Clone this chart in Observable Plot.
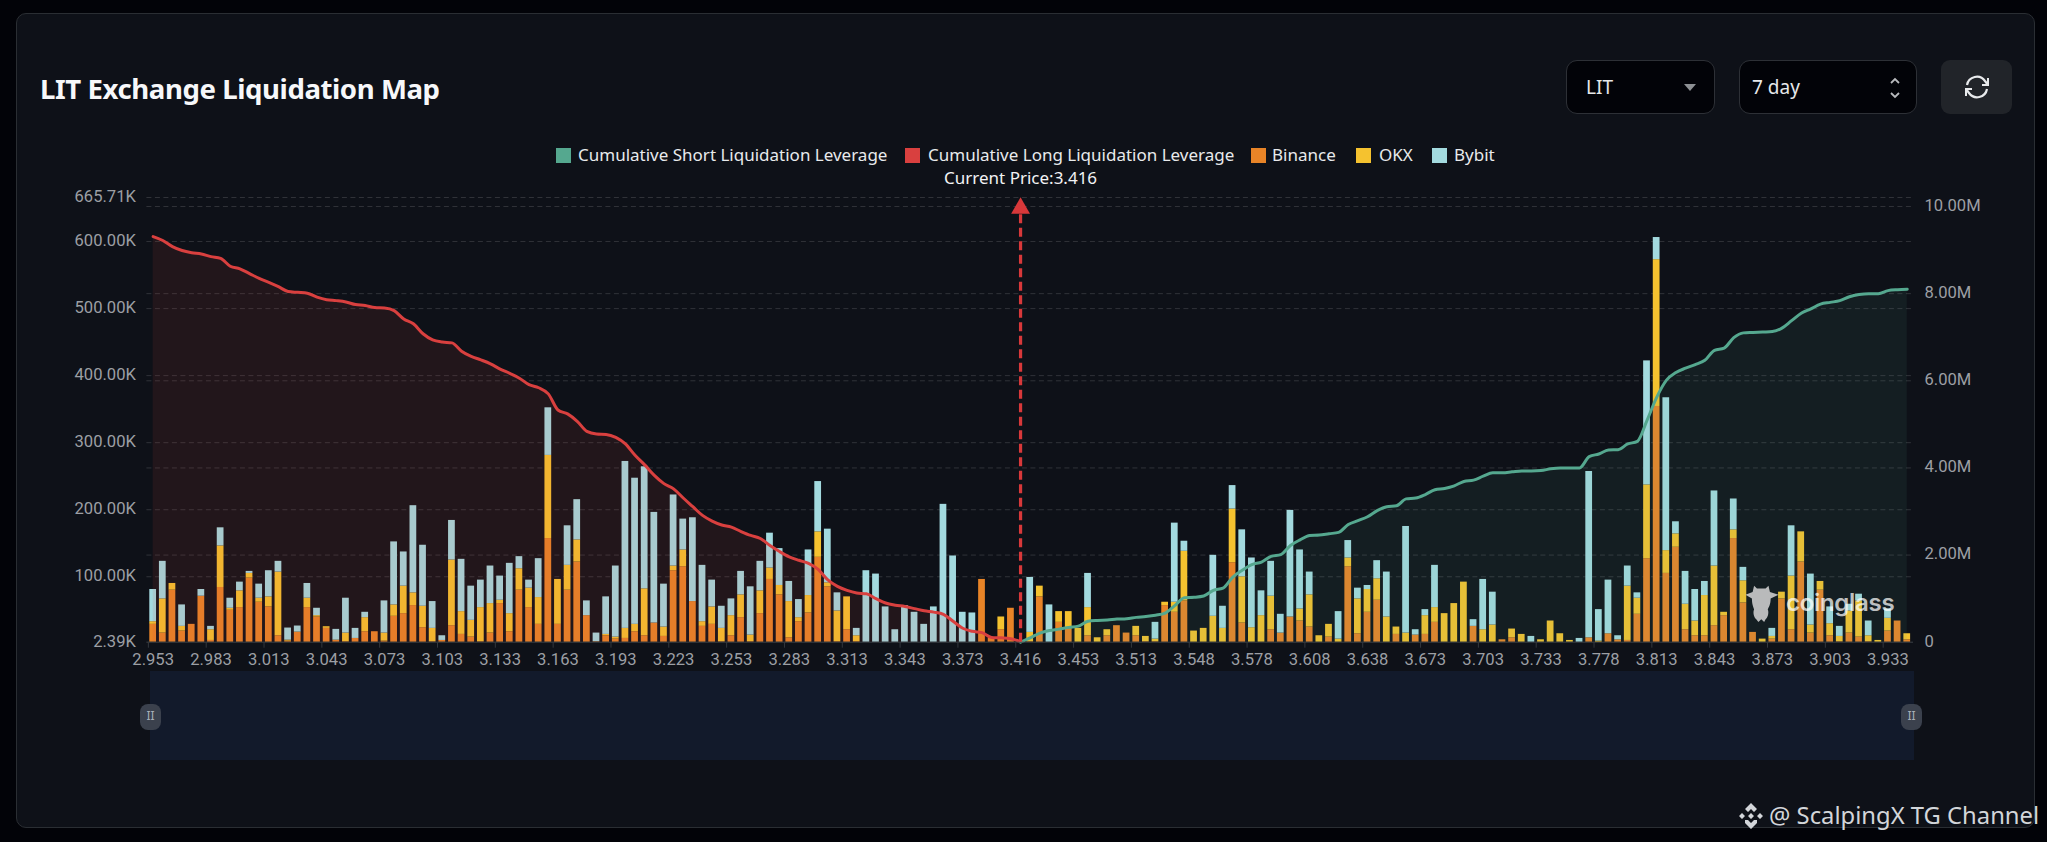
<!DOCTYPE html>
<html>
<head>
<meta charset="utf-8">
<script src="https://cdn.jsdelivr.net/npm/d3@7"></script>
<script src="https://cdn.jsdelivr.net/npm/@observablehq/plot@0.6"></script>
<style>
html,body{margin:0;padding:0;background:#020308;width:2047px;height:842px;overflow:hidden;font-family:"Noto Sans",sans-serif}
.abs{position:absolute}
#panel{left:16px;top:13px;width:2019px;height:815px;background:#0e1118;border:1px solid #2a2e33;border-radius:10px;box-sizing:border-box}
#title{left:40px;top:65px;font-size:27.6px;font-weight:700;letter-spacing:-.43px;color:#f7f8fa;line-height:46px;white-space:nowrap}
.box{background:#020308;border:1px solid #2d3036;border-radius:11px;box-sizing:border-box;top:60px;height:54px;color:#e6e8ea;font-size:19px;line-height:52px}
#chart{left:0;top:140px}
.lg{top:145px;font-size:17px;line-height:20px;color:#e8eaec;white-space:nowrap}
.sw{top:148px;width:15px;height:15px}
.handle{top:704px;width:21px;height:26px;border-radius:8px;background:#3b414d;color:#a8b0b8;font-size:12px;line-height:24px;text-align:center}
#wm{left:1786px;top:588px;font-size:24px;line-height:30px;font-weight:600;color:rgba(255,255,255,.74);font-family:"Inter","Noto Sans",sans-serif;letter-spacing:-.3px}
#tg{left:1769px;top:798px;font-size:23.8px;line-height:34px;color:#d3d6da;white-space:nowrap}
</style>
</head>
<body>
<div id="panel" class="abs"></div>
<div id="title" class="abs">LIT Exchange Liquidation Map</div>
<div class="abs box" style="left:1566px;width:149px;padding-left:19px">LIT
  <svg class="abs" style="left:116px;top:22px" width="14" height="9"><path d="M1 1H13L7 8Z" fill="#8d9094"/></svg></div>
<div class="abs box" style="left:1739px;width:178px;padding-left:12px">7 day
  <svg class="abs" style="left:148px;top:15px" width="14" height="24" fill="none" stroke="#b8babd" stroke-width="1.8"><path d="M3 7L7 3L11 7M3 17L7 21L11 17"/></svg></div>
<div class="abs" style="left:1941px;top:60px;width:71px;height:54px;border-radius:9px;background:#212429">
  <svg class="abs" style="left:23px;top:14px" width="26" height="26" viewBox="0 0 26 26" fill="none" stroke="#e8eaec" stroke-width="2.2"><path d="M3 11A10 10 0 0 1 21 7L24 11M23 15A10 10 0 0 1 5 19L2 15"/><path d="M24 4V11H18M2 22V15H8" stroke-width="2"/></svg></div>

<div class="abs sw" style="left:556px;background:#55a88f"></div><div class="abs lg" style="left:578px">Cumulative Short Liquidation Leverage</div>
<div class="abs sw" style="left:905px;background:#d9403f"></div><div class="abs lg" style="left:928px">Cumulative Long Liquidation Leverage</div>
<div class="abs sw" style="left:1251px;background:#e88427"></div><div class="abs lg" style="left:1272px">Binance</div>
<div class="abs sw" style="left:1356px;background:#f5c22f"></div><div class="abs lg" style="left:1379px">OKX</div>
<div class="abs sw" style="left:1432px;background:#a3dadf"></div><div class="abs lg" style="left:1454px">Bybit</div>

<div id="chart" class="abs"></div>

<div class="abs" style="left:150px;top:671px;width:1764px;height:89px;background:#121a2b"></div>
<div class="abs handle" style="left:140px">II</div>
<div class="abs handle" style="left:1901px">II</div>

<svg class="abs" style="left:1744px;top:583px" width="36" height="40" viewBox="0 0 50 44" preserveAspectRatio="none"><path d="M2 13L12 10L14 3L18 6H30L34 3L36 10L48 13L37 17C37 24 34 27 33 29C35 33 33 38 30 40L28 43L24 40L20 43L17 40C14 38 12 33 14 29C13 26 11 24 11 17Z" fill="#b9babb"/></svg>
<div id="wm" class="abs">coinglass</div>

<svg class="abs" style="left:1737px;top:802px" width="28" height="28" viewBox="0 0 28 28" fill="#d3d6da"><path d="M14 1L20 7L17 10L14 7L11 10L8 7ZM5 11L8 14L5 17L2 14ZM23 11L26 14L23 17L20 14ZM14 11L17 14L14 17L11 14ZM8 18L11 18L14 21L17 18L20 18L20 21L14 27L8 21Z"/></svg>
<div id="tg" class="abs">@ ScalpingX TG Channel</div>

<script>
// Values in thousands of USD, one entry per price bucket (left to right)
const binance = [29,16,80,19,29,71,5,84,50,54,98,62,55,12,4,17,54,40,23,5,3,8,18,18,4,41,45,57,24,3,5,27,14,10,3,16,60,18,80,54,29,157,29,80,122,42,3,12,7,8,18,12,31,11,109,115,63,26,29,3,12,39,3,45,96,73,9,33,46,129,85,3,21,3,0,0,0,0,0,0,0,0,0,0,0,0,96,9,21,53,0,3,70,0,32,22,0,12,0,12,27,16,12,3,3,57,47,64,0,0,0,0,121,31,0,0,21,16,40,34,25,0,10,0,115,15,47,65,0,14,0,13,14,32,0,0,0,26,0,0,6,9,0,0,0,0,0,0,0,9,0,15,6,5,44,127,354,105,144,21,12,12,27,42,157,61,17,0,7,67,21,122,16,80,12,3,16,10,3,0,19,34,6];
const okx = [4,51,10,7,0,0,16,62,3,25,7,6,15,95,1.5,0.5,14,2,2.5,0.5,13,0,21,0,12,17,41,19,32,20,0,98,34,25,51,44,5,27,32,29,40,124,67,37,33,0,0,2,3,15,11,70,0,14,7,25,0,7,26,20,30,34,10,34,17,14,54,6,26,38,6,46,49,9,0,0,0,0,0,0,0,0,0,0,0,0,0,0,19,0,0,14,16,0,16,26,23,42,9,9,0,0,14,8,4,5,15,74,19,23,41,23,80,69,24,42,50,0,0,18,48,12,19,7,13,52,34,32,40,11,16,0,28,22,45,60,92,0,21,28,0,13,14,0,6,34,15,5,0,0,4,0,0,81,24,110,219,34,20,38,22,60,89,5,13,33,0,7,4,10,80,45,12,13,18,8,33,54,9,5,19,0,9];
const bybit = [48,56,0,32,0,10,5,27,15,13,3,21,39,16,18,9,22,11,0,16,52,15,8,0,48,94,51,130,91,40,7,59,78,51,41,56,36,75,18,12,58,71,0,59,60,22,13,56,106,249,218,182,165,64,106,46,125,84,40,33,25,35,72,44,52,55,30,27,68,75,80,27,0,11,109,104,55,21,57,47,29,55,208,131,47,46,0,0,0,0,0,82,0,58,0,0,0,51,0,0,0,0,0,0,25,0,118,15,0,0,91,33,35,70,104,37,52,28,159,88,34,0,0,41,26,16,6,27,67,0,159,8,9,63,0,0,0,10,75,49,0,0,0,11,0,0,0,0,8,248,47,80,6,30,8,185,33,228,18,49,47,21,112,0,46,20,0,0,12,0,75,0,76,0,25,15,10,10,22,0,14,0,0];

// Cumulative leverage in millions, from the first bucket to the current price, then on to the last
const cumLong = [9.31,9.22,9.08,8.99,8.94,8.91,8.85,8.81,8.63,8.57,8.46,8.35,8.26,8.16,8.05,8.03,8.01,7.92,7.86,7.84,7.81,7.75,7.73,7.68,7.67,7.61,7.42,7.31,7.08,6.94,6.89,6.87,6.68,6.56,6.48,6.39,6.27,6.17,6.06,5.91,5.84,5.70,5.33,5.24,5.07,4.84,4.78,4.77,4.70,4.55,4.29,4.07,3.83,3.64,3.52,3.31,3.11,2.91,2.78,2.69,2.64,2.54,2.45,2.38,2.22,2.08,1.96,1.88,1.81,1.67,1.43,1.28,1.19,1.13,1.11,1.00,0.90,0.85,0.82,0.77,0.72,0.69,0.64,0.48,0.32,0.25,0.22,0.11,0.10,0.08,0.01];
const cumShort = [0,0.10,0.21,0.27,0.30,0.34,0.37,0.48,0.50,0.51,0.53,0.54,0.57,0.59,0.62,0.67,0.84,1.02,1.03,1.06,1.19,1.24,1.49,1.65,1.78,1.84,1.97,2.01,2.22,2.35,2.45,2.46,2.49,2.52,2.70,2.79,2.88,3.02,3.11,3.13,3.29,3.31,3.39,3.50,3.53,3.59,3.69,3.72,3.81,3.89,3.89,3.91,3.93,3.93,3.94,3.98,4.00,4.00,4.00,4.26,4.32,4.41,4.42,4.55,4.61,5.09,5.62,6.01,6.19,6.29,6.37,6.47,6.70,6.75,6.99,7.10,7.11,7.12,7.13,7.21,7.38,7.55,7.65,7.76,7.80,7.84,7.93,7.98,8.00,8.00,8.07,8.09,8.10];

const priceLabels = ["2.953","2.983","3.013","3.043","3.073","3.103","3.133","3.163","3.193","3.223","3.253","3.283","3.313","3.343","3.373","3.416","3.453","3.513","3.548","3.578","3.608","3.638","3.673","3.703","3.733","3.778","3.813","3.843","3.873","3.903","3.933"];
const labelStep = 6;
const currentBucket = 90;
const currentPrice = "3.416";
const leftMin = 2.39, leftMax = 665.71;
const leftTicks = [2.39,100,200,300,400,500,600,665.71];
const rightTicks = [0,2,4,6,8,10];
const series = ["Binance","OKX","Bybit"];
const seriesColors = ["#e88427","#f5c22f","#a3dadf"];
const longColor = "#d9403f", shortColor = "#55a88f";

// right axis: 10M sits just under the top of the left axis
const rightSpan = 0.9797 * (leftMax - leftMin) / 10;
const toLeft = m => leftMin + m * rightSpan;

const buckets = d3.range(binance.length);
const stacked = buckets.flatMap(i => [
  {i, s: "Binance", v: binance[i]},
  {i, s: "OKX", v: okx[i]},
  {i, s: "Bybit", v: bybit[i]}
]);
const longRows = cumLong.map((m, k) => ({i: k, m}));
const shortRows = cumShort.map((m, k) => ({i: currentBucket + k, m}));
const tickIdx = priceLabels.map((_, k) => k * labelStep);
const labelOf = i => priceLabels[i / labelStep];
const axisFont = {fontFamily: "Roboto", fontSize: 16.6};
const tickColor = "#9c9fa4";
const grid = "#ffffff";

const plot = Plot.plot({
  width: 2047, height: 550,
  marginTop: 57, marginBottom: 48.3, marginLeft: 146.4, marginRight: 134,
  style: {background: "transparent", overflow: "visible"},
  x: {type: "band", domain: buckets, padding: 0.3, round: false, axis: null},
  y: {domain: [leftMin, leftMax], axis: null},
  color: {domain: series, range: seriesColors},
  marks: [
    Plot.ruleY(leftTicks.filter(t => t > leftMin), {y: d => d, stroke: grid, strokeOpacity: 0.14, strokeDasharray: "5 3.5"}),
    Plot.ruleY(rightTicks.filter(t => t > 0).map(toLeft), {y: d => d, stroke: grid, strokeOpacity: 0.14, strokeDasharray: "5 3.5"}),
    Plot.barY(stacked, Plot.stackY({order: null, x: "i", y: "v", z: "s", fill: "s", clip: true})),
    Plot.areaY(longRows, {x: "i", y1: leftMin, y2: d => toLeft(d.m), curve: "monotone-x", fill: longColor, fillOpacity: 0.1}),
    Plot.areaY(shortRows, {x: "i", y1: leftMin, y2: d => toLeft(d.m), curve: "monotone-x", fill: shortColor, fillOpacity: 0.09}),
    Plot.lineY(longRows, {x: "i", y: d => toLeft(d.m), curve: "monotone-x", stroke: longColor, strokeWidth: 3}),
    Plot.lineY(shortRows, {x: "i", y: d => toLeft(d.m), curve: "monotone-x", stroke: shortColor, strokeWidth: 3}),
    Plot.ruleY([leftMin], {stroke: "#3c4046", strokeWidth: 1}),
    Plot.ruleX([currentBucket], {y1: leftMin, y2: leftMax - 10, stroke: "#d8383a", strokeWidth: 3.2, strokeDasharray: "9 4.5"}),
    Plot.dot([currentBucket], {x: d => d, y: leftMax - 16, symbol: "triangle", r: 7, fill: "#d8383a"}),
    Plot.text([currentBucket], {x: d => d, y: leftMax, dy: -19, text: () => "Current Price:" + currentPrice, fill: "#f2f3f5", fontFamily: "Noto Sans", fontSize: 17}),
    Plot.axisX({ticks: tickIdx, anchor: "bottom", label: null, tickSize: 6, dx: -4.8, tickFormat: () => "", stroke: "#33373d", fill: "none"}),
    Plot.axisX({ticks: tickIdx, anchor: "bottom", label: null, tickSize: 0, tickPadding: 11, tickFormat: labelOf, fill: tickColor, ...axisFont}),
    Plot.axisY({ticks: leftTicks, anchor: "left", label: null, tickSize: 0, tickPadding: 11, dy: -1, tickFormat: v => v.toFixed(2) + "K", fill: tickColor, ...axisFont}),
    Plot.axisY({ticks: rightTicks.map(toLeft), anchor: "right", label: null, tickSize: 0, tickPadding: 11, dy: -1, tickFormat: (v, k) => rightTicks[k] === 0 ? "0" : rightTicks[k].toFixed(2) + "M", fill: tickColor, ...axisFont})
  ]
});
document.getElementById("chart").append(plot);
</script>
</body>
</html>
